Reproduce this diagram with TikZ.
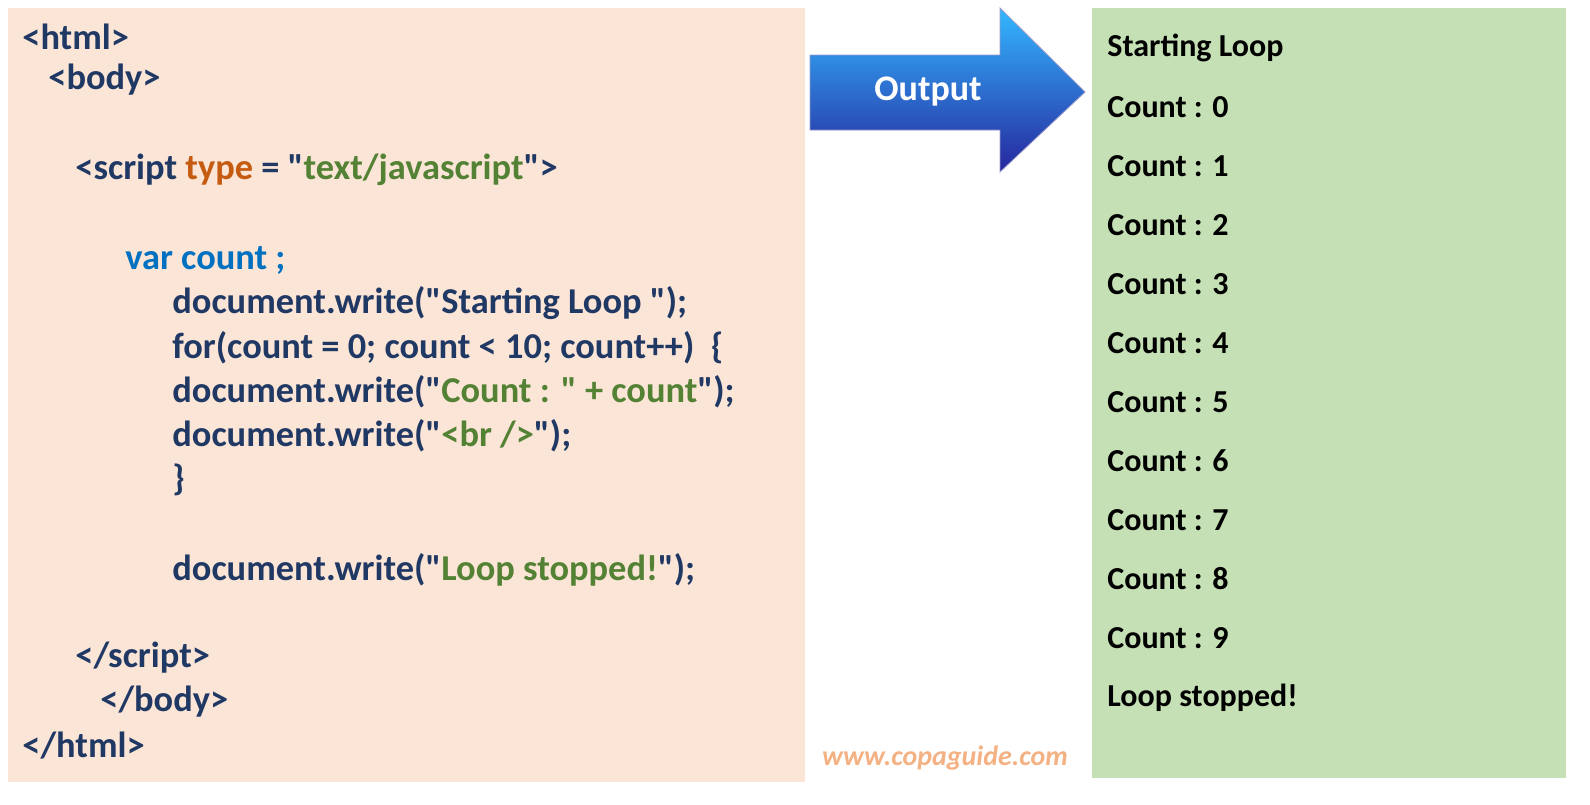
\documentclass[tikz,border=0pt]{standalone}
\usepackage{fontspec}
\setmainfont{Carlito}[Ligatures=TeXOff]
\usetikzlibrary{shadings}
\definecolor{codepanel}{HTML}{FBE5D6}
\definecolor{outpanel}{HTML}{C5E0B4}
\definecolor{tagcol}{HTML}{203864}
\definecolor{attrcol}{HTML}{C55A11}
\definecolor{strcol}{HTML}{548235}
\definecolor{varcol}{HTML}{0070C0}
\definecolor{webcol}{HTML}{F4B183}
\tikzset{
  code/.style={anchor=west,inner sep=0pt,font=\bfseries\fontsize{18.2}{21}\selectfont,text=tagcol},
  outline/.style={anchor=west,inner sep=0pt,font=\bfseries\fontsize{16}{19}\selectfont,text=black}
}
\begin{document}
\begin{tikzpicture}[x=0.5pt,y=-0.5pt]
    \clip (0,0) rectangle (1590,804);
    % Panels
    \fill[codepanel] (8,8) rectangle (805,782);
    \fill[outpanel] (1092,8) rectangle (1566,778);

    % Arrow
    \shade[top color=blue!35!cyan!80!white, bottom color=blue!55!black!85, draw=blue!50!black!40]
        (810,55) -- (1000,55) -- (1000,8) -- (1085,92) -- (1000,172) -- (1000,130) -- (810,130) -- cycle;
    \node (outlbl) at (928,92) [text=white,font=\bfseries\fontsize{18}{21}\selectfont] {Output};

    % Code lines
    \node[code] (l1) at (22,37) {<html>};
    \node[code] (l2) at (48,80) {<body>};
    \node[code] (l3) at (75,170) {<script \textcolor{attrcol}{type} = "\textcolor{strcol}{text/javascript}">};
    \node[code] (l4) at (125,260) {\textcolor{varcol}{var count ;}};
    \node[code] (l5) at (172,303) {document.write("Starting Loop ");};
    \node[code] (l6) at (172,348) {for(count = 0; count < 10; count++)\ \ \{};
    \node[code] (l7) at (172,392) {document.write("\textcolor{strcol}{Count : " + count}");};
    \node[code] (l8) at (172,436) {document.write("\textcolor{strcol}{<br />}");};
    \node[code] (l9) at (172,480) {\}};
    \node[code] (l10) at (172,570) {document.write("\textcolor{strcol}{Loop stopped!}");};
    \node[code] (l11) at (75,658) {</script>};
    \node[code] (l12) at (100,702) {</body>};
    \node[code] (l13) at (22,746) {</html>};

    % Output lines
    \node[outline] (start) at (1107,48) {Starting Loop};
    \foreach \c in {0,...,9} {
        \node[outline] (cnt\c) at (1107,{107+59*\c}) {Count : \c};
    }
    \node[outline] (stop) at (1107,698) {Loop stopped!};

    % Site
    \node (site) at (945,758) [text=webcol,font=\bfseries\itshape\fontsize{14}{16}\selectfont] {www.copaguide.com};
\end{tikzpicture}
\end{document}
